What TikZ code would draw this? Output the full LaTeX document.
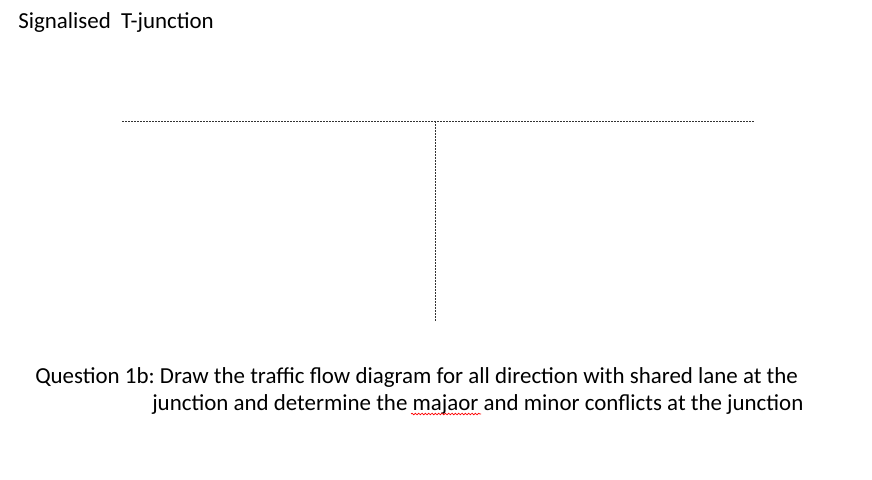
\documentclass[tikz,border=0pt]{standalone}
\usepackage{fontspec}
\setmainfont{Carlito}
\usetikzlibrary{decorations.pathmorphing}
\tikzset{
  road/.style={dash pattern=on 1.5pt off 0.75pt, line width=0.75pt, black!80},
  txt/.style={anchor=base west, inner sep=0pt, font=\fontsize{17.2}{20}\selectfont},
  squiggle/.style={red, line width=0.5pt, decorate, decoration={snake, amplitude=0.6pt, segment length=2.5pt}}
}
\begin{document}
\frenchspacing
\begin{tikzpicture}[x=0.75pt,y=-0.75pt]
\useasboundingbox (0,0) rectangle (872,479);
\node[txt] (title) at (18,28) {Signalised\ \ T-junction};
\coordinate (hl) at (122,121);
\coordinate (hr) at (755,121);
\coordinate (vt) at (435,121);
\coordinate (vb) at (435,322);
\draw[road] (hl) -- (hr);
\draw[road] (vt) -- (vb);
\node[txt] (q1) at (35,383) {Question 1b: Draw the traffic flow diagram for all direction with shared lane at the};
\node[txt] (q2) at (152,410) {junction and determine the majaor and minor conflicts at the junction};
\coordinate (sq1) at (411,414);
\coordinate (sq2) at (481,414);
\draw[squiggle] (sq1) -- (sq2);
\end{tikzpicture}
\end{document}
